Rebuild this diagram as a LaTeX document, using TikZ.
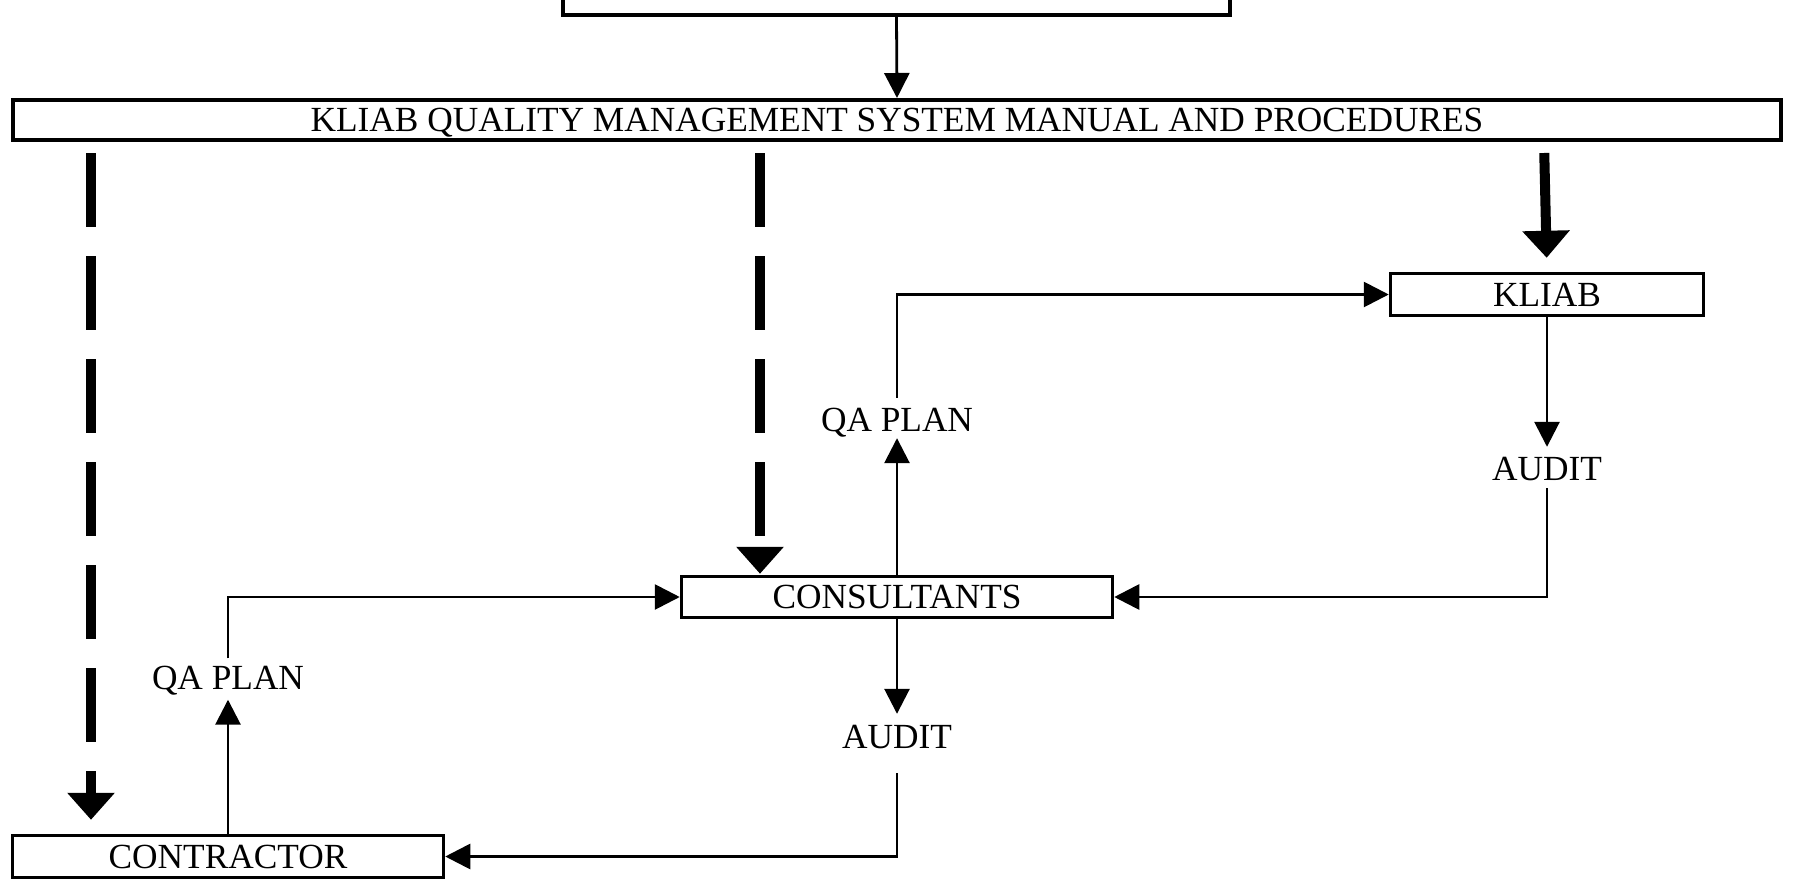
\documentclass[tikz,border=0pt]{standalone}
\usepackage{fontspec}
\setmainfont{Liberation Serif}
\usetikzlibrary{arrows.meta}
\begin{document}
\begin{tikzpicture}[x=1pt,y=-1pt,
 box/.style={draw, line width=3.5pt, inner sep=0pt, text height=23pt, text depth=0pt, font=\fontsize{35.3}{42}\selectfont},
 lbl/.style={inner sep=0pt, text height=23pt, text depth=0pt, font=\fontsize{35.3}{42}\selectfont},
 thinarrow/.style={line width=2.8pt, -{Triangle[length=25pt,width=25pt]}},
 thickdash/.style={line width=10pt, dash pattern=on 74pt off 29pt, -{Triangle[length=27pt,width=46pt]}},
 thickarrow/.style={line width=10pt, -{Triangle[length=27pt,width=46pt]}}]
\useasboundingbox (0,0) rectangle (1807,891);
% boxes
\node[box, line width=3.8pt, minimum width=667pt, minimum height=65pt] (top) at (896.5,-17.5) {};
\node[box, line width=4pt, minimum width=1768pt, minimum height=40pt] (main) at (897,120) {KLIAB QUALITY MANAGEMENT SYSTEM MANUAL AND PROCEDURES};
\node[box, minimum width=313pt, minimum height=42pt] (kliab) at (1547,294.5) {KLIAB};
\node[box, minimum width=431pt, minimum height=41pt] (cons) at (897,597) {CONSULTANTS};
\node[box, minimum width=431pt, minimum height=42pt] (contr) at (228,856.5) {CONTRACTOR};
% labels
\node[lbl] (qa1) at (897,419.5) {QA PLAN};
\node[lbl] (audit1) at (1547,468.5) {AUDIT};
\node[lbl] (audit2) at (897,736.5) {AUDIT};
\node[lbl] (qa2) at (228,678) {QA PLAN};
% helper x positions
\coordinate (xl) at (91,0);
\coordinate (xm) at (760,0);
\coordinate (xr) at (1544,0);
% connectors
\draw[thinarrow] (top.south) -- (main.north);
\draw[thickdash, shorten <=11pt, shorten >=14pt] (main.south -| xl) -- (contr.north -| xl);
\draw[thickdash, shorten <=11pt, shorten >=1pt] (main.south -| xm) -- (cons.north -| xm);
\draw[thickarrow, shorten <=11pt, shorten >=14pt] (main.south -| xr) -- (kliab.north);
\draw[thinarrow, shorten >=7pt] (cons.north) -- (qa1.south);
\draw[thinarrow, shorten <=10pt] (qa1.north) |- (kliab.west);
\draw[thinarrow, shorten >=10pt] (kliab.south) -- (audit1.north);
\draw[thinarrow, shorten <=8pt] (audit1.south) |- (cons.east);
\draw[thinarrow, shorten >=11pt] (cons.south) -- (audit2.north);
\draw[thinarrow, shorten <=25pt] (audit2.south) |- (contr.east);
\draw[thinarrow, shorten >=10pt] (contr.north) -- (qa2.south);
\draw[thinarrow, shorten <=8pt] (qa2.north) |- (cons.west);
\end{tikzpicture}
\end{document}
